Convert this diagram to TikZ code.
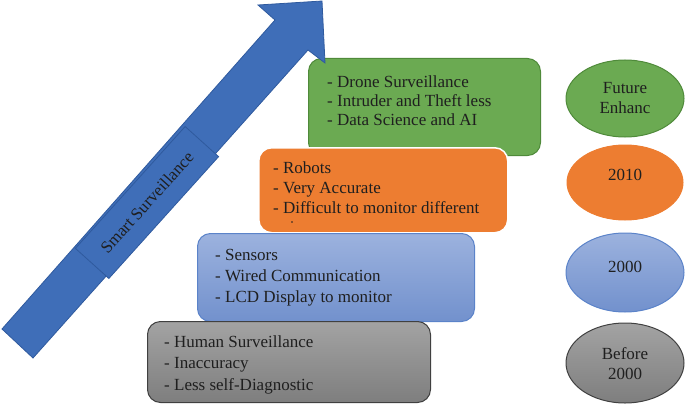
\documentclass[tikz,border=0pt]{standalone}
\usepackage{fontspec}
\setmainfont{Liberation Serif}
\usetikzlibrary{shapes.geometric, positioning}
\definecolor{GreenFill}{HTML}{6BAA52}
\definecolor{GreenEdge}{HTML}{4F8A3A}
\definecolor{OrangeFill}{HTML}{ED7D31}
\definecolor{BlueTop}{HTML}{9CB2DE}
\definecolor{BlueBottom}{HTML}{7291CD}
\definecolor{BlueEdge}{HTML}{5B83C9}
\definecolor{GrayTop}{HTML}{A3A3A3}
\definecolor{GrayBottom}{HTML}{7E7E7E}
\definecolor{GrayEdge}{HTML}{404040}
\definecolor{ArrowBlue}{HTML}{3F6EB8}
\definecolor{ArrowEdge}{HTML}{2F5A9E}
\definecolor{TextDark}{HTML}{1F1F1F}

\tikzset{
  stage/.style={rectangle, rounded corners=13pt, line width=1pt, anchor=north west, inner sep=0pt},
  period/.style={ellipse, minimum width=118pt, minimum height=78pt, line width=1pt, inner sep=0pt},
  points/.style={anchor=base west, align=left, inner sep=0pt, text=TextDark},
  yeartext/.style={align=center, inner sep=0pt, text=TextDark, font=\fontsize{17}{20}\selectfont},
}

\begin{document}
\begin{tikzpicture}[x=1pt, y=-1pt]
  \useasboundingbox (0,0) rectangle (685,404);
  % Stage boxes
  \node[stage, draw=GreenEdge, fill=GreenFill, minimum width=232pt, minimum height=97pt] (future) at (308,58) {};
  \node[stage, draw=white, line width=1.5pt, fill=OrangeFill, minimum width=249pt, minimum height=85pt] (robots) at (258,147) {};
  \node[stage, draw=BlueEdge, top color=BlueTop, bottom color=BlueBottom, minimum width=277pt, minimum height=88pt] (sensors) at (197,233) {};
  \node[stage, draw=GrayEdge, top color=GrayTop, bottom color=GrayBottom, minimum width=283pt, minimum height=81pt] (human) at (147,321) {};
  % Stage texts (placed at the baseline of the last line)
  \node[points, font=\fontsize{17}{19}\selectfont] (futureText) at (327,125)
    {- Drone Surveillance\\- Intruder and Theft less\\- Data Science and AI};
  \node[points, font=\fontsize{17}{20}\selectfont] (robotsText) at (273,213)
    {- Robots\\- Very Accurate\\- Difficult to monitor different};
  \fill[TextDark] (292,222) circle (0.8pt);
  \node[points, font=\fontsize{17}{21}\selectfont] (sensorsText) at (215,302)
    {- Sensors\\- Wired Communication\\- LCD Display to monitor};
  \node[points, font=\fontsize{17}{21.5}\selectfont] (humanText) at (164,390)
    {- Human Surveillance\\- Inaccuracy\\- Less self-Diagnostic};
  % Rising arrow
  \draw[line width=0.8pt, ArrowEdge, fill=ArrowBlue]
    (2,329) -- (275,20) -- (258,5) -- (322,1) -- (325,63) -- (308,50) -- (33,358) -- cycle;
  \node[draw=ArrowEdge, line width=0.8pt, fill=ArrowBlue, rotate=48, minimum width=164pt,
    minimum height=45pt, inner sep=0pt, text=TextDark, font=\fontsize{17}{20}\selectfont]
    (smart) at (147,202.5) {Smart Surveillance};
  % Period ellipses
  \node[period, draw=GreenEdge, fill=GreenFill, minimum height=77pt] (pFuture) at (625,98.5) {};
  \node[period, draw=OrangeFill, fill=OrangeFill, minimum width=116pt, minimum height=75pt] (p2010) at (625,182.5) {};
  \node[period, draw=BlueEdge, top color=BlueTop, bottom color=BlueBottom, minimum height=79pt] (p2000) at (625,272.5) {};
  \node[period, draw=GrayEdge, top color=GrayTop, bottom color=GrayBottom, minimum height=80pt] (pBefore) at (625,363) {};
  \node[yeartext] (tFuture) at ([yshift=0.5pt]pFuture.center) {Future\\Enhanc};
  \node[yeartext] (t2010) at ([yshift=8pt]p2010.center) {2010};
  \node[yeartext] (t2000) at ([yshift=6pt]p2000.center) {2000};
  \node[yeartext] (tBefore) at ([yshift=-0.5pt]pBefore.center) {Before\\2000};
\end{tikzpicture}
\end{document}
